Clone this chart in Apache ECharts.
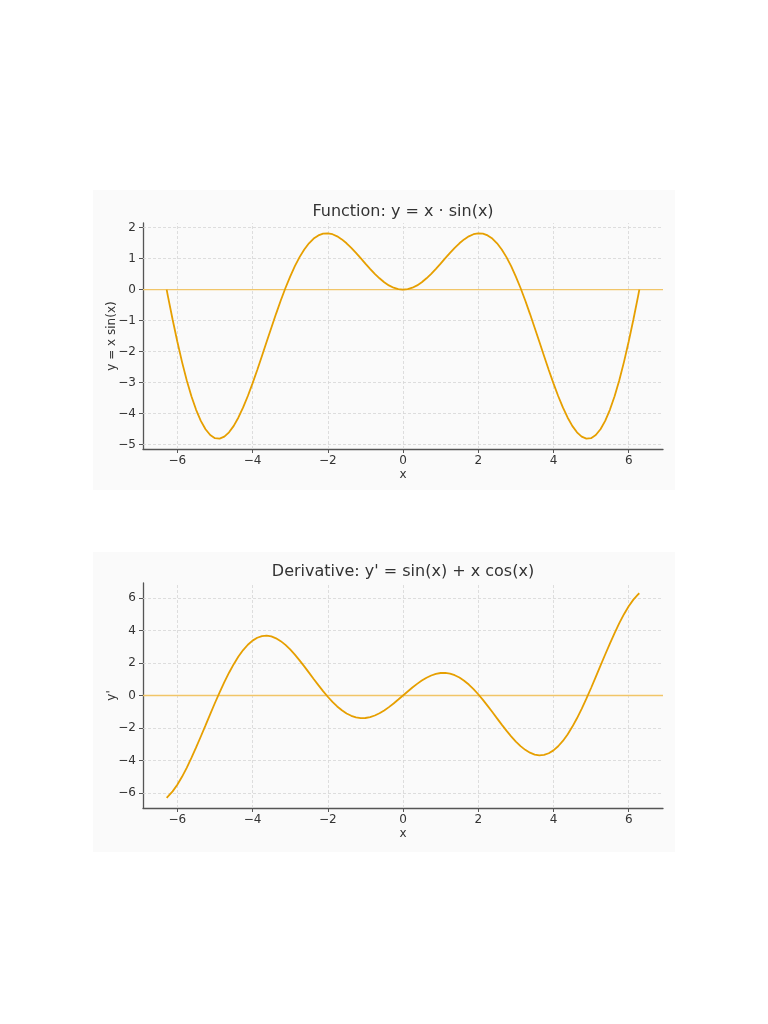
<!DOCTYPE html>
<html>
<head>
<meta charset="utf-8">
<script src="https://cdn.jsdelivr.net/npm/echarts@6/dist/echarts.min.js"></script>
<style>
html,body{margin:0;padding:0;background:#ffffff;}
#chart{width:768px;height:1024px;}
</style>
</head>
<body>
<div id="chart"></div>
<script>
// ---- data ----
const xValues = [-6.283,-6.25,-6.125,-6.0,-5.875,-5.75,-5.625,-5.5,-5.375,-5.25,-5.125,-5.0,-4.875,-4.75,-4.625,-4.5,-4.375,-4.25,-4.125,-4.0,-3.875,-3.75,-3.625,-3.5,-3.375,-3.25,-3.125,-3.0,-2.875,-2.75,-2.625,-2.5,-2.375,-2.25,-2.125,-2.0,-1.875,-1.75,-1.625,-1.5,-1.375,-1.25,-1.125,-1.0,-0.875,-0.75,-0.625,-0.5,-0.375,-0.25,-0.125,
  0,0.125,0.25,0.375,0.5,0.625,0.75,0.875,1.0,1.125,1.25,1.375,1.5,1.625,1.75,1.875,2.0,2.125,2.25,2.375,2.5,2.625,2.75,2.875,3.0,3.125,3.25,3.375,3.5,3.625,3.75,3.875,4.0,4.125,4.25,4.375,4.5,4.625,4.75,4.875,5.0,5.125,5.25,5.375,5.5,5.625,5.75,5.875,6.0,6.125,6.25,6.283];
const funcValues = [0,-0.208,-0.965,-1.676,-2.332,-2.923,-3.441,-3.880,-4.238,-4.509,-4.695,-4.795,-4.811,-4.747,-4.607,-4.399,-4.128,-3.804,-3.434,-3.027,-2.594,-2.144,-1.685,-1.228,-0.781,-0.352,0.052,0.423,0.757,1.050,1.297,1.496,1.648,1.751,1.807,1.819,1.789,1.722,1.623,1.496,1.349,1.186,1.015,0.841,0.672,0.511,0.366,0.240,0.137,0.062,0.016,
  0,0.016,0.062,0.137,0.240,0.366,0.511,0.672,0.841,1.015,1.186,1.349,1.496,1.623,1.722,1.789,1.819,1.807,1.751,1.648,1.496,1.297,1.050,0.757,0.423,0.052,-0.352,-0.781,-1.228,-1.685,-2.144,-2.594,-3.027,-3.434,-3.804,-4.128,-4.399,-4.607,-4.747,-4.811,-4.795,-4.695,-4.509,-4.238,-3.880,-3.441,-2.923,-2.332,-1.676,-0.965,-0.208,0];
const derivValues = [-6.283,-6.213,-5.891,-5.482,-4.995,-4.444,-3.838,-3.192,-2.518,-1.830,-1.139,-0.460,0.198,0.821,1.400,1.926,2.392,2.791,3.118,3.371,3.548,3.649,3.674,3.629,3.515,3.339,3.108,2.829,2.510,2.160,1.789,1.404,1.017,0.635,0.268,-0.077,-0.392,-0.672,-0.910,-1.104,-1.248,-1.343,-1.387,-1.382,-1.328,-1.230,-1.092,-0.918,-0.715,-0.490,-0.249,
  0,0.249,0.490,0.715,0.918,1.092,1.230,1.328,1.382,1.387,1.343,1.248,1.104,0.910,0.672,0.392,0.077,-0.268,-0.635,-1.017,-1.404,-1.789,-2.160,-2.510,-2.829,-3.108,-3.339,-3.515,-3.629,-3.674,-3.649,-3.548,-3.371,-3.118,-2.791,-2.392,-1.926,-1.400,-0.821,-0.198,0.460,1.139,1.830,2.518,3.192,3.838,4.444,4.995,5.482,5.891,6.213,6.283];
const zeroLineX = [-6.912, 6.912];
const zeroLineY = [0, 0];
const xTicks = [-6,-4,-2,0,2,4,6];
const yTicksTop = [-5,-4,-3,-2,-1,0,1,2];
const yTicksBottom = [-6,-4,-2,0,2,4,6];
const titleTop = 'Function: y = x · sin(x)';
const titleBottom = "Derivative: y' = sin(x) + x cos(x)";
const yNameTop = 'y = x sin(x)';
const yNameBottom = "y'";
const xName = 'x';

// ---- styles ----
const ORANGE = '#E69F00';
const ZERO = '#F1C568';
const FONT = 'DejaVu Sans';
const TEXT = '#333333';
const AXIS = '#555555';
const GRIDC = '#d6d6d6';
const fmt = v => String(v).replace('-', '\u2212');

function pairs(xs, ys){ return xs.map((x,i)=>[x, ys[i]]); }

function xAxisFor(gridIndex){
  return {
    type:'value', gridIndex, min:-6.912, max:6.912,
    name:xName, nameLocation:'middle', nameGap:20, nameMoveOverlap:false,
    nameTextStyle:{fontFamily:FONT,fontSize:12,color:TEXT},
    axisLine:{show:true,onZero:false,lineStyle:{color:AXIS,width:1.3}},
    axisTick:{show:true,length:4,customValues:xTicks,lineStyle:{color:AXIS}},
    axisLabel:{customValues:xTicks,formatter:fmt,fontFamily:FONT,fontSize:12,color:TEXT,margin:6},
    splitLine:{show:false}
  };
}
function yAxisFor(gridIndex,min,max,ticks,name){
  return {
    type:'value', gridIndex, min, max,
    name, nameLocation:'middle', nameGap:25, nameRotate:90, nameMoveOverlap:false,
    nameTextStyle:{fontFamily:FONT,fontSize:12,color:TEXT},
    axisLine:{show:true,onZero:false,lineStyle:{color:AXIS,width:1.3}},
    axisTick:{show:true,length:4,customValues:ticks,lineStyle:{color:AXIS}},
    axisLabel:{customValues:ticks,formatter:fmt,fontFamily:FONT,fontSize:12,color:TEXT,margin:7},
    splitLine:{show:false}
  };
}
function gridSeries(idx, yTicks){
  const lines = xTicks.map(v=>({xAxis:v})).concat(yTicks.filter(v=>v!==0).map(v=>({yAxis:v})));
  return {
    type:'line', xAxisIndex:idx, yAxisIndex:idx, data:[], z:1, silent:true,
    markLine:{z:1,silent:true,symbol:['none','none'],label:{show:false},animation:false,
      lineStyle:{color:GRIDC,type:[3,2],width:0.8},data:lines}
  };
}
function zeroSeries(idx){
  return {
    type:'line', xAxisIndex:idx, yAxisIndex:idx, data:pairs(zeroLineX, zeroLineY),
    showSymbol:false, z:9, silent:true, animation:false,
    lineStyle:{color:ZERO,width:1.3,opacity:1}, itemStyle:{color:ZERO}
  };
}
function mainSeries(idx, ys){
  return {
    type:'line', xAxisIndex:idx, yAxisIndex:idx, data:pairs(xValues, ys),
    smooth:false, showSymbol:false, z:10, animation:false,
    lineStyle:{color:ORANGE,width:1.8}, itemStyle:{color:ORANGE}
  };
}

const chart = echarts.init(document.getElementById('chart'), null, {renderer:'canvas'});
chart.setOption({
  animation:false,
  backgroundColor:'#ffffff',
  graphic:[
    {type:'rect',shape:{x:93,y:190,width:582,height:300},style:{fill:'#fafafa'},z:-10,silent:true},
    {type:'rect',shape:{x:93,y:552,width:582,height:300},style:{fill:'#fafafa'},z:-10,silent:true},
    {type:'text',x:403,y:212,style:{text:titleTop,align:'center',verticalAlign:'middle',fontFamily:FONT,fontSize:16,fill:TEXT},z:10},
    {type:'text',x:403,y:572,style:{text:titleBottom,align:'center',verticalAlign:'middle',fontFamily:FONT,fontSize:16,fill:TEXT},z:10}
  ],
  grid:[
    {left:143,right:105,top:223,height:226},
    {left:143,right:105,top:583,height:225}
  ],
  xAxis:[xAxisFor(0), xAxisFor(1)],
  yAxis:[
    yAxisFor(0,-5.146,2.152,yTicksTop,yNameTop),
    yAxisFor(1,-6.912,6.912,yTicksBottom,yNameBottom)
  ],
  series:[
    gridSeries(0,yTicksTop),
    gridSeries(1,yTicksBottom),
    zeroSeries(0),
    zeroSeries(1),
    mainSeries(0,funcValues),
    mainSeries(1,derivValues)
  ]
});
</script>
</body>
</html>
